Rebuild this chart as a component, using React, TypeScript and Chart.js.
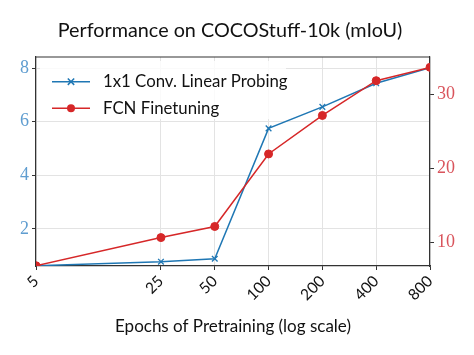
import React, { useEffect, useRef } from 'react';
import { Chart, registerables } from 'chart.js';

Chart.register(...registerables);

const epochs = [5, 25, 50, 100, 200, 400, 800];
const linearProbing = [0.63, 0.78, 0.89, 5.75, 6.55, 7.43, 8.01];
const fcnFinetuning = [6.8, 10.6, 12.1, 21.9, 27.1, 31.8, 33.6];
const xTicks = [5, 25, 50, 100, 200, 400, 800];
const leftTicks = [2, 4, 6, 8];
const rightTicks = [10, 20, 30];
const TITLE = 'Performance on COCOStuff-10k (mIoU)';
const X_TITLE = 'Epochs of Pretraining (log scale)';
const LABEL_LP = '1x1 Conv. Linear Probing';
const LABEL_FCN = 'FCN Finetuning';

const BLUE = '#1f77b4';
const RED = '#d62728';
const SANS = 'Lato, "DejaVu Sans", sans-serif';
const SERIF = '"Liberation Serif", "DejaVu Serif", serif';

const decorPlugin = {
  id: 'decor',
  beforeDatasetsDraw(chart: any) {
    const ctx = chart.ctx;
    const a = chart.chartArea;
    ctx.save();
    // legend background (faded grid behind it)
    const lx = a.left + 4, ly = a.top + 4, lw = 246, lh = 58;
    ctx.fillStyle = 'rgba(255,255,255,0.8)';
    ctx.beginPath();
    (ctx as any).roundRect(lx, ly, lw, lh, 3);
    ctx.fill();
    ctx.restore();
  },
  afterDatasetsDraw(chart: any) {
    const ctx = chart.ctx;
    const a = chart.chartArea;
    ctx.save();
    // frame top
    ctx.strokeStyle = '#333';
    ctx.lineWidth = 1.2;
    ctx.beginPath();
    ctx.moveTo(a.left, a.top);
    ctx.lineTo(a.right, a.top);
    ctx.stroke();
    const rows = [
      { label: LABEL_LP, color: BLUE, y: a.top + 24.7, marker: 'x' },
      { label: LABEL_FCN, color: RED, y: a.top + 51.3, marker: 'o' },
    ];
    for (const r of rows) {
      ctx.strokeStyle = r.color;
      ctx.fillStyle = r.color;
      ctx.lineWidth = 1.5;
      ctx.beginPath();
      ctx.moveTo(a.left + 16, r.y);
      ctx.lineTo(a.left + 54, r.y);
      ctx.stroke();
      const mx = a.left + 35;
      if (r.marker === 'x') {
        const d = 3.2;
        ctx.beginPath();
        ctx.moveTo(mx - d, r.y - d);
        ctx.lineTo(mx + d, r.y + d);
        ctx.moveTo(mx - d, r.y + d);
        ctx.lineTo(mx + d, r.y - d);
        ctx.stroke();
      } else {
        ctx.beginPath();
        ctx.arc(mx, r.y, 4, 0, Math.PI * 2);
        ctx.fill();
      }
      ctx.fillStyle = '#111';
      ctx.font = `16.8px ${SANS}`;
      ctx.textAlign = 'left';
      ctx.textBaseline = 'middle';
      ctx.fillText(r.label, a.left + 67, r.y);
    }
    // title
    ctx.fillStyle = '#111';
    ctx.font = `19.8px ${SANS}`;
    ctx.textAlign = 'center';
    ctx.textBaseline = 'middle';
    ctx.fillText(TITLE, 230, 31);
    ctx.restore();
  },
};

export default function App() {
  const ref = useRef<HTMLCanvasElement>(null);
  useEffect(() => {
    if (!ref.current) return;
    const chart = new Chart(ref.current, {
      type: 'line',
      data: {
        datasets: [
          {
            label: LABEL_FCN,
            data: epochs.map((e, i) => ({ x: e, y: fcnFinetuning[i] })),
            yAxisID: 'y2',
            borderColor: RED,
            backgroundColor: RED,
            borderWidth: 1.5,
            pointStyle: 'circle',
            pointRadius: 4,
            pointBackgroundColor: RED,
            pointBorderColor: RED,
            pointBorderWidth: 1,
            order: 0,
          },
          {
            label: LABEL_LP,
            data: epochs.map((e, i) => ({ x: e, y: linearProbing[i] })),
            yAxisID: 'y',
            borderColor: BLUE,
            backgroundColor: BLUE,
            borderWidth: 1.5,
            pointStyle: 'crossRot',
            pointRadius: 4,
            pointBorderColor: BLUE,
            pointBorderWidth: 1.3,
            order: 1,
          },
        ],
      },
      options: {
        animation: false,
        responsive: false,
        maintainAspectRatio: false,
        layout: { padding: { top: 57, left: 0, right: 0, bottom: 0 } },
        plugins: {
          legend: { display: false },
          tooltip: { enabled: false },
          title: { display: false },
        },
        scales: {
          x: {
            type: 'logarithmic',
            min: 5,
            max: 800,
            afterBuildTicks: (axis: any) => {
              axis.ticks = xTicks.map((v) => ({ value: v }));
            },
            afterFit: (axis: any) => {
              axis.height = 89;
            },
            ticks: {
              autoSkip: false,
              minRotation: 45,
              maxRotation: 45,
              color: '#111',
              font: { family: SANS, size: 15.5 },
              padding: 2,
              callback: (v: any) => String(v),
            },
            grid: { color: '#e3e3e3', lineWidth: 1, tickColor: '#333', tickLength: 4 },
            border: { color: '#333', width: 1.2 },
            title: {
              display: true,
              text: X_TITLE,
              color: '#111',
              font: { family: SANS, size: 17 },
              padding: { top: 0, bottom: 18 },
            },
          },
          y: {
            type: 'linear',
            position: 'left',
            min: 0.62,
            max: 8.41,
            afterBuildTicks: (axis: any) => {
              axis.ticks = leftTicks.map((v) => ({ value: v }));
            },
            afterFit: (axis: any) => {
              axis.width = 36;
            },
            ticks: {
              color: '#5f9dd0',
              font: { family: SERIF, size: 18 },
              padding: 3,
            },
            grid: { color: '#e3e3e3', lineWidth: 1, tickColor: '#333', tickLength: 4 },
            border: { color: '#333', width: 1.2 },
          },
          y2: {
            type: 'linear',
            position: 'right',
            min: 6.76,
            max: 35.0,
            afterBuildTicks: (axis: any) => {
              axis.ticks = rightTicks.map((v) => ({ value: v }));
            },
            afterFit: (axis: any) => {
              axis.width = 44;
            },
            ticks: {
              color: '#d9545c',
              font: { family: SERIF, size: 18 },
              padding: 3,
            },
            grid: { drawOnChartArea: false, tickColor: '#333', tickLength: 4 },
            border: { color: '#333', width: 1.2 },
          },
        },
      },
      plugins: [decorPlugin],
    } as any);
    return () => chart.destroy();
  }, []);
  return (
    <div style={{ position: 'absolute', left: 0, top: 0, width: 474, height: 355, background: '#fff' }}>
      <canvas ref={ref} width={474} height={355} style={{ width: 474, height: 355 }} />
    </div>
  );
}
